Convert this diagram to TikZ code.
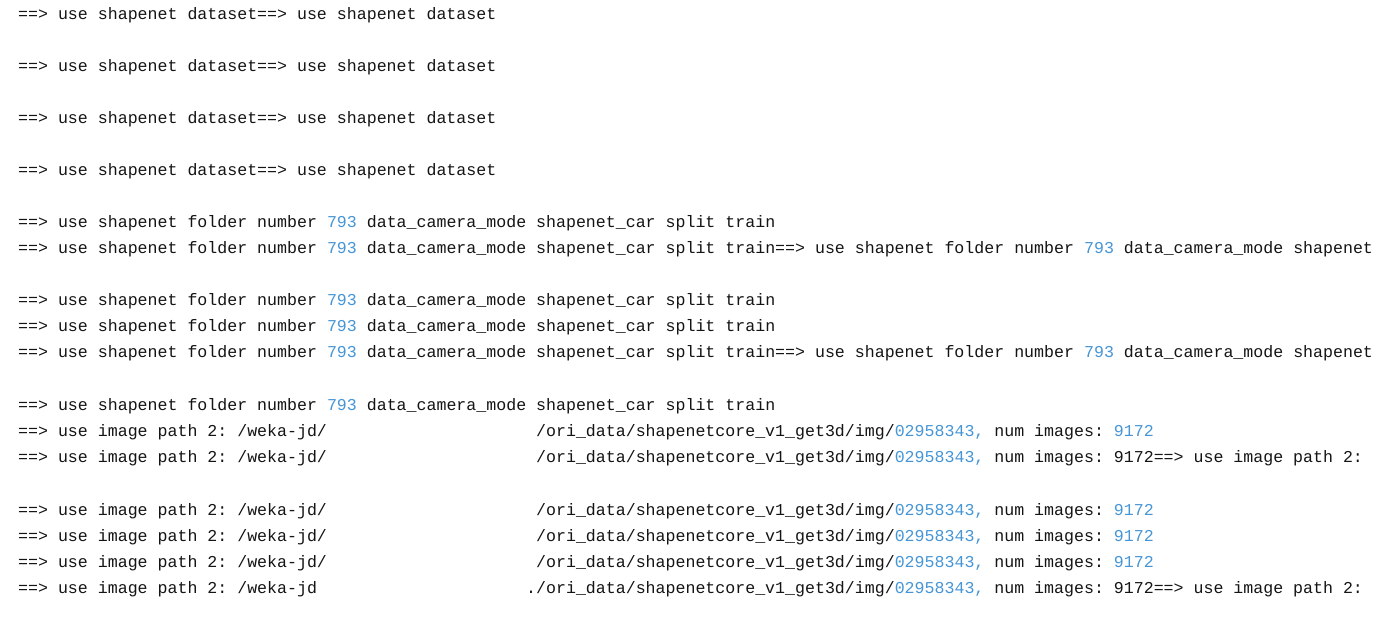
\documentclass[tikz,border=0pt]{standalone}
\usepackage{fontspec}
\setmonofont{Liberation Mono}
\definecolor{numblue}{RGB}{70,150,215}
\definecolor{txt}{RGB}{20,20,20}
\newcommand\bn[1]{\textcolor{numblue}{#1}}
\newcommand\gp[1]{\hspace*{#1\dimexpr 9.96pt\relax}}
\tikzset{ln/.style={anchor=west,inner sep=0pt,font=\ttfamily\fontsize{16.6}{18}\selectfont,text=txt}}
\begin{document}
\begin{tikzpicture}[x=1pt,y=-1pt]
\useasboundingbox[fill=white] (0,0) rectangle (1377,621);
\begin{scope}[yshift=-1.5pt]
\def\ds{==> use shapenet dataset}
\def\fn{==> use shapenet folder number \bn{793} data\_camera\_mode shapenet\_car split train}
\def\im{/ori\_data/shapenetcore\_v1\_get3d/img/\bn{02958343,} num images: }
\node[ln] (l1) at (18,14) {\ds\ds};
\node[ln] (l2) at (18,66) {\ds\ds};
\node[ln] (l3) at (18,118) {\ds\ds};
\node[ln] (l4) at (18,170) {\ds\ds};
\node[ln] (l5) at (18,222) {\fn};
\node[ln] (l6) at (18,248) {\fn==> use shapenet folder number \bn{793} data\_camera\_mode shapenet};
\node[ln] (l7) at (18,300) {\fn};
\node[ln] (l8) at (18,326) {\fn};
\node[ln] (l9) at (18,352) {\fn==> use shapenet folder number \bn{793} data\_camera\_mode shapenet};
\node[ln] (l10) at (18,405) {\fn};
\node[ln] (l11) at (18,431) {==> use image path 2: /weka-jd/\gp{21}\im\bn{9172}};
\node[ln] (l12) at (18,457) {==> use image path 2: /weka-jd/\gp{21}\im 9172==> use image path 2:};
\node[ln] (l13) at (18,510) {==> use image path 2: /weka-jd/\gp{21}\im\bn{9172}};
\node[ln] (l14) at (18,536) {==> use image path 2: /weka-jd/\gp{21}\im\bn{9172}};
\node[ln] (l15) at (18,562) {==> use image path 2: /weka-jd/\gp{21}\im\bn{9172}};
\node[ln] (l16) at (18,588) {==> use image path 2: /weka-jd\gp{21}.\im 9172==> use image path 2:};
\end{scope}
\end{tikzpicture}
\end{document}
